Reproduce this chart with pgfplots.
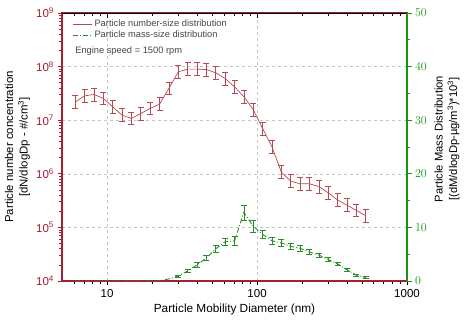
\documentclass[border=0pt]{standalone}
\usepackage{fontspec}
\setmainfont{Liberation Sans}
\usepackage{pgfplots}
\pgfplotsset{compat=1.18}
\usepackage{pgfplotstable}
\definecolor{axred}{RGB}{165,30,50}
\definecolor{curvered}{RGB}{180,75,80}
\definecolor{axgreen}{RGB}{20,150,20}
\definecolor{curvegreen}{RGB}{40,140,40}
\definecolor{legtext}{RGB}{70,70,70}

\pgfplotstableread{
d n ep em
6.12 2.17e7 0.32 0.24
7.07 2.85e7 0.32 0.24
8.17 3.02e7 0.32 0.24
9.43 2.55e7 0.32 0.24
10.89 1.77e7 0.32 0.24
12.58 1.24e7 0.32 0.24
14.52 1.08e7 0.32 0.24
16.77 1.33e7 0.32 0.24
19.36 1.66e7 0.32 0.24
22.37 1.99e7 0.32 0.24
25.82 3.92e7 0.32 0.24
29.83 8.0e7 0.32 0.24
34.43 8.98e7 0.32 0.24
39.77 8.98e7 0.32 0.24
45.92 8.79e7 0.32 0.24
53.04 7.66e7 0.32 0.24
61.24 6.0e7 0.32 0.24
70.72 4.19e7 0.32 0.24
81.66 2.73e7 0.32 0.24
94.30 1.58e7 0.32 0.24
108.9 7.0e6 0.32 0.24
125.8 3.17e6 0.32 0.24
145.2 1.07e6 0.32 0.24
167.7 7.3e5 0.32 0.24
193.6 6.5e5 0.32 0.24
223.7 6.5e5 0.32 0.24
258.2 5.8e5 0.32 0.24
298.3 4.4e5 0.32 0.24
344.4 3.25e5 0.32 0.24
397.7 2.6e5 0.32 0.24
459.2 2.08e5 0.32 0.24
530.4 1.65e5 0.32 0.24
}\numdata

\pgfplotstableread{
d m
6.12 0
7.07 0
8.17 0
9.43 0
10.89 0
12.58 0
14.52 0
16.77 0
19.36 0
22.37 0
25.82 0.4
29.83 0.93
34.43 1.87
39.77 3.0
45.92 4.3
53.04 6.0
61.24 7.3
70.72 7.5
81.66 12.8
94.30 10.2
108.9 8.7
125.8 7.5
145.2 7.1
167.7 6.45
193.6 6.1
223.7 5.4
258.2 4.85
298.3 4.0
344.4 3.2
397.7 2.1
459.2 1.1
530.4 0.65
}\massdata

\pgfplotstableread{
d m e
29.83 0.93 0.2
34.43 1.87 0.3
39.77 3.0 0.4
45.92 4.3 0.5
53.04 6.0 0.6
61.24 7.3 0.7
70.72 7.5 0.8
81.66 12.8 1.4
94.30 10.2 1.2
108.9 8.7 0.8
125.8 7.5 0.6
145.2 7.1 0.6
167.7 6.45 0.5
193.6 6.1 0.5
223.7 5.4 0.5
258.2 4.85 0.4
298.3 4.0 0.4
344.4 3.2 0.3
397.7 2.1 0.3
459.2 1.1 0.2
530.4 0.65 0.2
}\masserr

\begin{document}
\begin{tikzpicture}
\useasboundingbox (-62pt,-41pt) rectangle (412pt,281pt);
\begin{axis}[
  scale only axis, width=345pt, height=268pt,
  xmode=log, ymode=log, log basis x=10, log basis y=10,
  xmin=5, xmax=1000, ymin=1e4, ymax=1e9,
  xtick={10,100,1000}, xticklabels={10,100,1000},
  minor xtick={6,7,8,9,20,30,40,50,60,70,80,90,200,300,400,500,600,700,800,900},
  ytick={1e4,1e5,1e6,1e7,1e8,1e9},
  yticklabels={10\textsuperscript{4},10\textsuperscript{5},10\textsuperscript{6},10\textsuperscript{7},10\textsuperscript{8},10\textsuperscript{9}},
  minor ytick={2e4,3e4,4e4,5e4,6e4,7e4,8e4,9e4,2e5,3e5,4e5,5e5,6e5,7e5,8e5,9e5,2e6,3e6,4e6,5e6,6e6,7e6,8e6,9e6,2e7,3e7,4e7,5e7,6e7,7e7,8e7,9e7,2e8,3e8,4e8,5e8,6e8,7e8,8e8,9e8},
  tick align=outside, xtick pos=bottom, ytick pos=left,
  major tick length=4.5pt, minor tick length=2.8pt,
  grid=major, major grid style={dashed, gray!45, line width=0.5pt},
  x axis line style={black, line width=0.8pt},
  y axis line style={axred, line width=1.3pt},
  y tick style={axred, line width=0.7pt},
  x tick style={black, line width=0.6pt},
  yticklabel style={text=axred, font=\fontsize{11.5}{13}\selectfont},
  xticklabel style={font=\fontsize{11.5}{13}\selectfont},
  xlabel={Particle Mobility Diameter (nm)},
  xlabel style={font=\fontsize{11.8}{14}\selectfont, at={(axis description cs:0.5,-0.108)}, anchor=center},
  ylabel={Particle number concentration\\{}[dN/dlogDp - \#/cm\textsuperscript{3}]},
  ylabel style={font=\fontsize{11.4}{14.5}\selectfont, align=center, at={(axis description cs:-0.129,0.5)}, anchor=center},
  legend style={at={(rel axis cs:0.028,0.985)}, anchor=north west, draw=none, fill=none,
    font=\fontsize{9.3}{11}\selectfont, text=legtext, row sep=-1.5pt, inner sep=1pt},
  legend cell align=left,
  legend image post style={xscale=1.1},
]
\addplot[curvered, line width=0.7pt,
  error bars/.cd, y dir=both, y explicit relative,
  error bar style={curvered, line width=0.6pt},
  error mark options={rotate=90, mark size=3pt, curvered, line width=0.6pt}]
  table[x=d, y=n, y error plus=ep, y error minus=em] {\numdata};
\addlegendentry{Particle number-size distribution}
\addlegendimage{curvegreen, line width=0.9pt, dash pattern=on 5pt off 2pt on 1pt off 2pt}
\addlegendentry{Particle mass-size distribution}
\node[anchor=west, font=\fontsize{9.3}{11}\selectfont, text=legtext, inner sep=0pt] at (rel axis cs:0.038,0.858) {Engine speed = 1500 rpm};
\end{axis}
\begin{axis}[
  scale only axis, width=345pt, height=268pt,
  xmode=log, log basis x=10,
  xmin=5, xmax=1000, ymin=0, ymax=50,
  axis x line*=top, axis y line*=right,
  xtick={10,100,1000}, xticklabels={},
  minor xtick={6,7,8,9,20,30,40,50,60,70,80,90,200,300,400,500,600,700,800,900},
  ytick={0,10,20,30,40,50},
  minor ytick={5,15,25,35,45},
  tick align=outside,
  major tick length=4.5pt, minor tick length=2.8pt,
  x axis line style={black, line width=0.6pt},
  y axis line style={axgreen, line width=1.3pt},
  y tick style={axgreen, line width=0.7pt},
  major x tick style={black, line width=0.6pt, yshift=-4.5pt},
  minor x tick style={black, line width=0.6pt, yshift=-2.8pt},
  yticklabel style={text=axgreen, font=\fontsize{11.5}{13}\selectfont},
  ylabel={Particle Mass Distribution\\{}[(dM/dlogDp-µg/m\textsuperscript{3})*10\textsuperscript{3}]},
  ylabel style={font=\fontsize{11.2}{14.5}\selectfont, align=center, at={(axis description cs:1.116,0.53)}, anchor=center, rotate=0},
]
\addplot[curvegreen, line width=0.9pt, dash pattern=on 5pt off 2pt on 1pt off 2pt]
  table[x=d, y=m] {\massdata};
\addplot[draw=none, mark=none, forget plot,
  error bars/.cd, y dir=both, y explicit,
  error bar style={draw=curvegreen, line width=0.6pt, solid},
  error mark options={rotate=90, mark size=3pt, draw=curvegreen, line width=0.6pt, solid}]
  table[x=d, y=m, y error=e] {\masserr};
\end{axis}
\end{tikzpicture}
\end{document}
